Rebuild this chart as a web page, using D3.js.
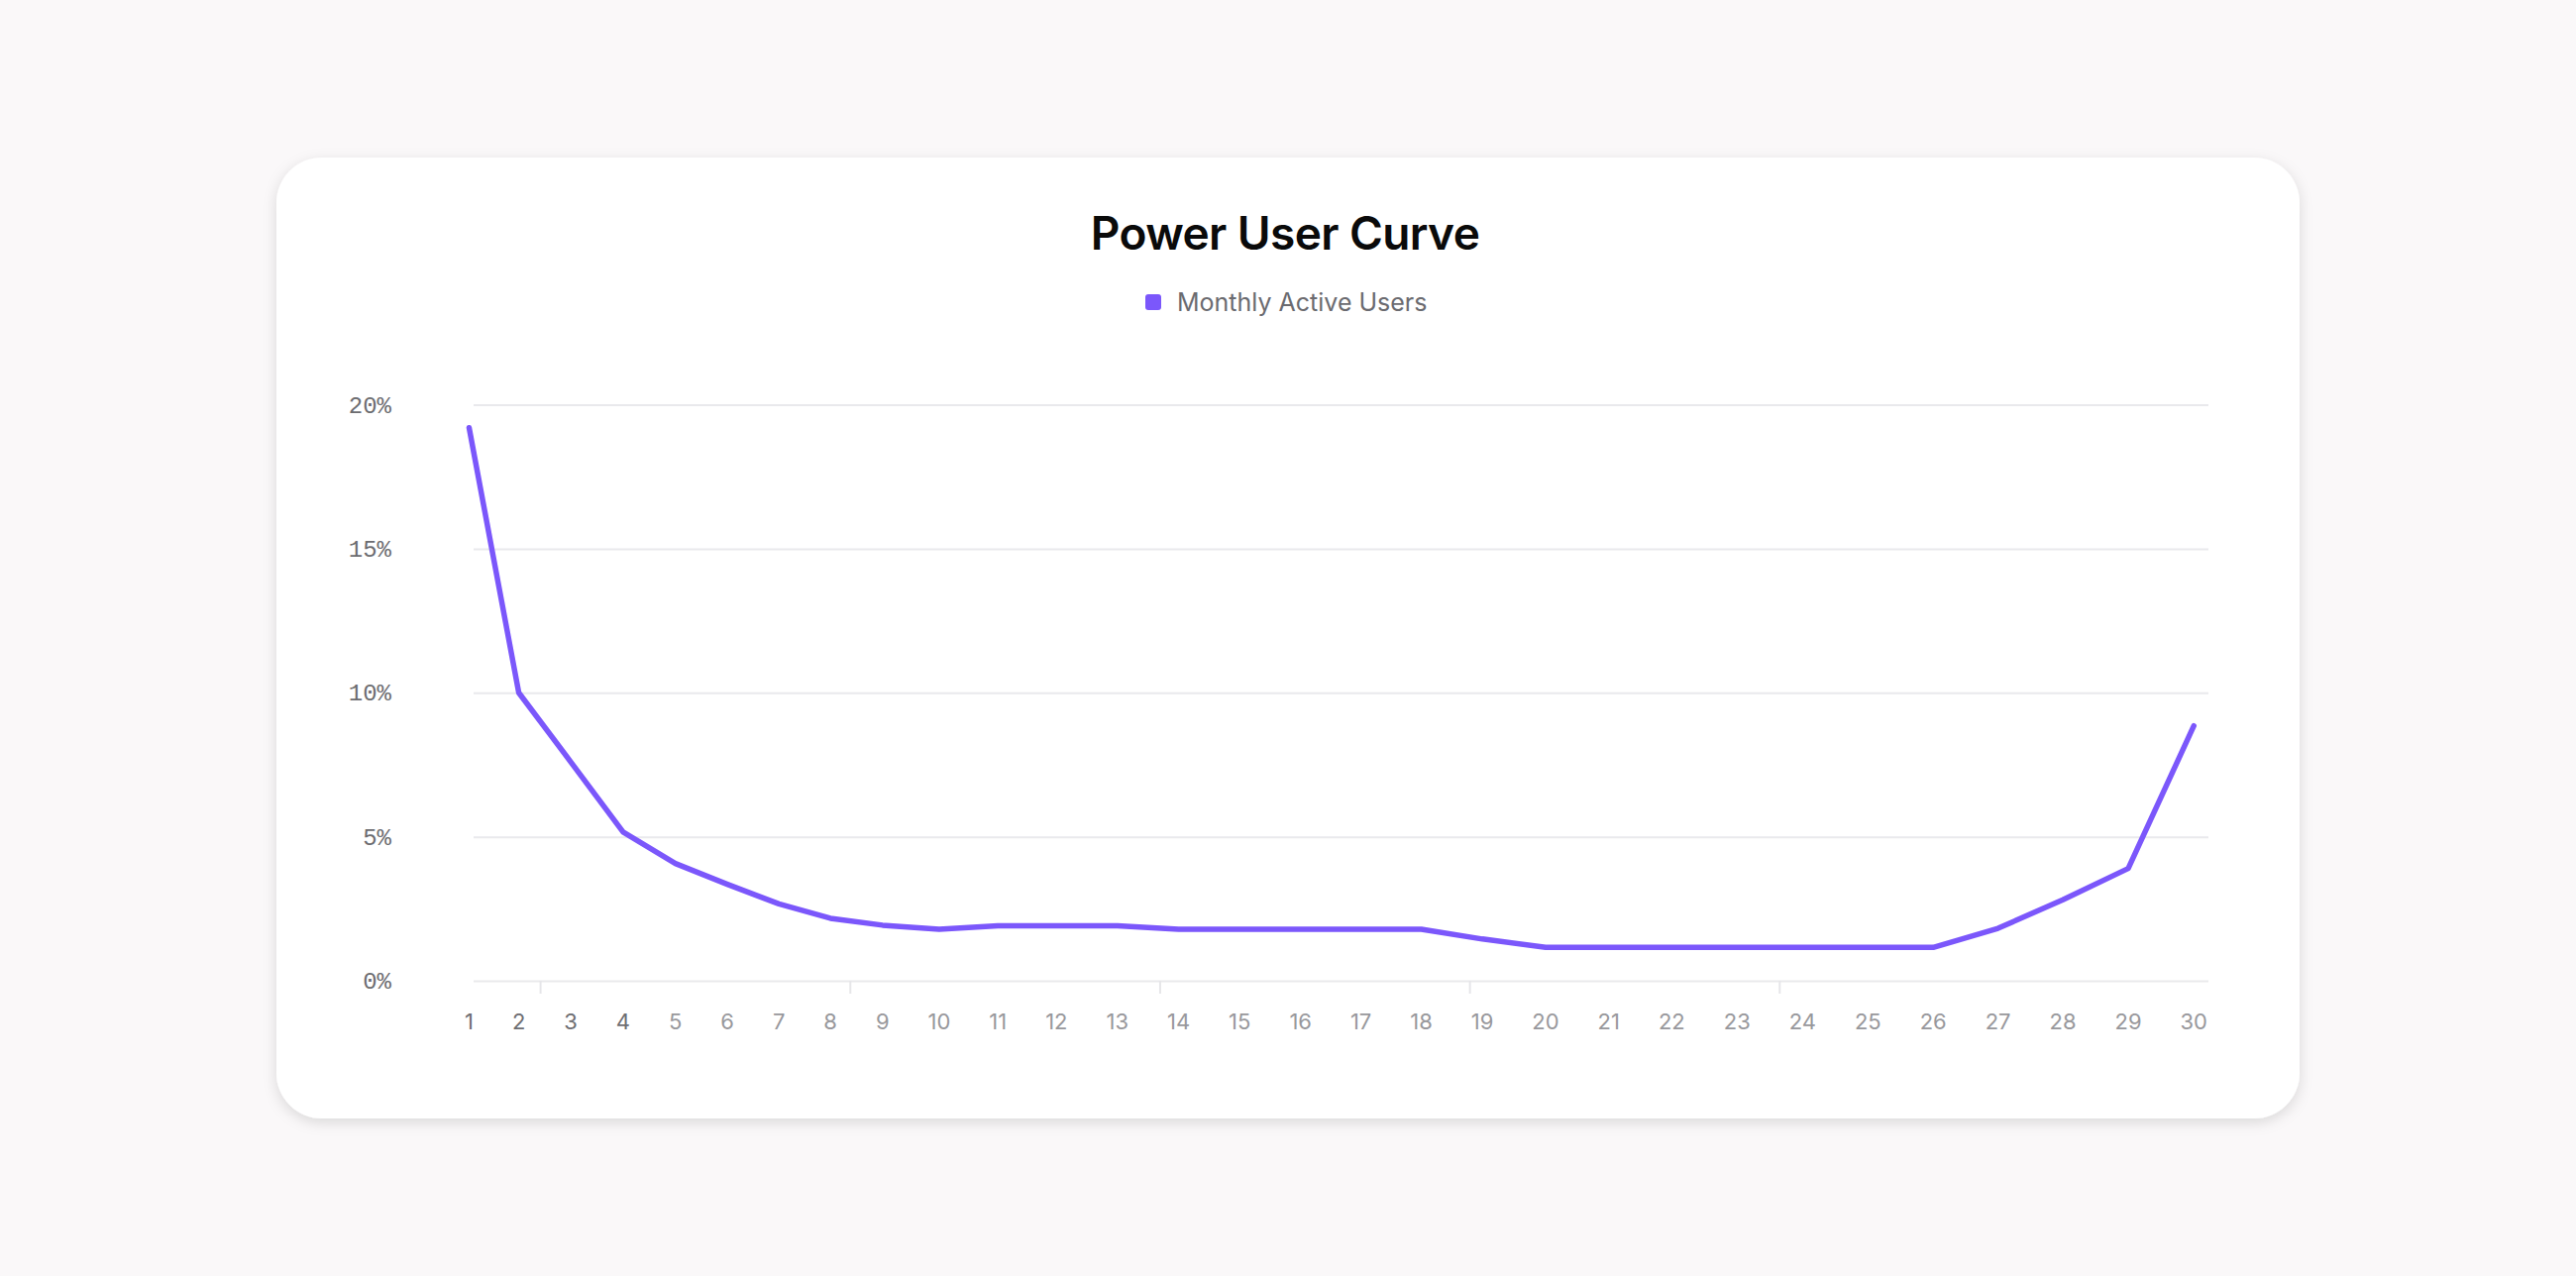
<!DOCTYPE html>
<html>
<head>
<meta charset="utf-8">
<script src="https://cdn.jsdelivr.net/npm/d3@7"></script>
<style>
  html, body { margin: 0; padding: 0; background: #faf8f9; }
  svg { display: block; }
</style>
</head>
<body>
<div id="chart"></div>
<script>
// data (share of monthly active users by days active)
var days = d3.range(1, 31);
var activeShare = [19.2, 10.0, 7.6, 5.16, 4.07, 3.35, 2.67, 2.17, 1.93, 1.79,
                   1.91, 1.91, 1.91, 1.79, 1.79, 1.79, 1.79, 1.79, 1.45, 1.16,
                   1.16, 1.16, 1.16, 1.16, 1.16, 1.16, 1.82, 2.81, 3.9, 8.85];
var yTicks = [0, 5, 10, 15, 20];
var seriesName = "Monthly Active Users";
var title = "Power User Curve";

var W = 2600, H = 1288;
var purple = "#7b57fb";

var svg = d3.select("#chart")
            .append("svg")
            .attr("width", W)
            .attr("height", H);

// card with soft shadow
var defs = svg.append("defs");
defs.append("filter")
    .attr("id", "shadow")
    .attr("x", "-10%").attr("y", "-10%")
    .attr("width", "120%").attr("height", "125%")
  .append("feDropShadow")
    .attr("dx", 0).attr("dy", 4)
    .attr("stdDeviation", 7)
    .attr("flood-color", "#000")
    .attr("flood-opacity", 0.13);

svg.append("rect")
   .attr("x", 279).attr("y", 159)
   .attr("width", 2042).attr("height", 970)
   .attr("rx", 46).attr("ry", 46)
   .attr("fill", "white")
   .attr("filter", "url(#shadow)");

// title + legend
svg.append("text")
   .attr("x", 1297).attr("y", 252)
   .attr("text-anchor", "middle")
   .attr("font-family", "Inter, 'Noto Sans', sans-serif")
   .attr("font-weight", 600)
   .attr("font-size", 46)
   .attr("letter-spacing", -0.6)
   .attr("fill", "#0a0a0a")
   .text(title);

var legend = svg.append("g");
legend.append("rect")
      .attr("x", 1156).attr("y", 297)
      .attr("width", 16).attr("height", 16)
      .attr("rx", 3)
      .attr("fill", purple);
legend.append("text")
      .attr("x", 1188).attr("y", 314)
      .attr("font-family", "Inter, 'Noto Sans', sans-serif")
      .attr("font-size", 25)
      .attr("fill", "#6b6b70")
      .text(seriesName);

// plot area
var plotLeft = 478, plotRight = 2229;
var y = d3.scaleLinear().domain([0, 20]).range([990, 408.5]);

var yAxis = d3.axisLeft(y)
              .tickValues(yTicks)
              .tickSize(-(plotRight - plotLeft))
              .tickPadding(83)
              .tickFormat(function(d) { return d + "%"; });

var gy = svg.append("g")
            .attr("transform", "translate(" + plotLeft + ",0)")
            .call(yAxis);
gy.select(".domain").remove();
gy.selectAll(".tick line")
  .attr("stroke", "#e9e9ec")
  .attr("stroke-width", 2);
gy.selectAll(".tick text")
  .attr("font-family", "'Liberation Mono', 'DejaVu Sans Mono', monospace")
  .attr("font-size", 24)
  .attr("fill", "#6c6c70");

// x labels are spread edge to edge (space-between), so centers depend on text widths
var labelLeft = 469, labelRight = 2228, labelY = 1039;
var xLabels = svg.append("g")
                 .selectAll("text")
                 .data(days)
                 .join("text")
                 .attr("y", labelY)
                 .attr("font-family", "Inter, 'Noto Sans', sans-serif")
                 .attr("font-size", 22)
                 .attr("fill", function(d) { return d <= 4 ? "#6e6e72" : "#98989c"; })
                 .text(function(d) { return d; });

var widths = [];
xLabels.each(function() { widths.push(this.getComputedTextLength()); });
var gap = (labelRight - labelLeft - d3.sum(widths)) / (days.length - 1);
var centers = [];
var cursor = labelLeft;
widths.forEach(function(w) {
  centers.push(cursor + w / 2);
  cursor += w + gap;
});

var x = d3.scaleLinear().domain(days).range(centers);

xLabels.attr("x", function(d) { return x(d); })
       .attr("text-anchor", "middle");

// small tick marks under the baseline
var tickStep = (plotRight - plotLeft) / 5.6;
svg.append("g")
   .selectAll("line")
   .data(d3.range(5))
   .join("line")
   .attr("x1", function(i) { return plotLeft + 67.6 + i * tickStep; })
   .attr("x2", function(i) { return plotLeft + 67.6 + i * tickStep; })
   .attr("y1", y(0))
   .attr("y2", y(0) + 13)
   .attr("stroke", "#e6e6e9")
   .attr("stroke-width", 2);

// the curve
var line = d3.line()
             .x(function(d, i) { return x(days[i]); })
             .y(function(d) { return y(d); });

svg.append("path")
   .datum(activeShare)
   .attr("d", line)
   .attr("fill", "none")
   .attr("stroke", purple)
   .attr("stroke-width", 5.5)
   .attr("stroke-linejoin", "round")
   .attr("stroke-linecap", "round");
</script>
</body>
</html>
